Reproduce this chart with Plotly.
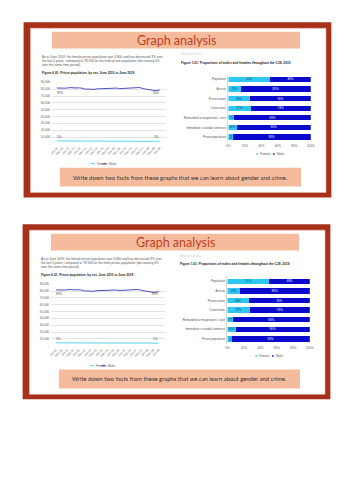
import plotly.graph_objects as go

W, H = 353, 500

quarters = ["Jun-10", "Sep-10", "Dec-10", "Mar-11", "Jun-11", "Sep-11", "Dec-11", "Mar-12",
            "Jun-12", "Sep-12", "Dec-12", "Mar-13", "Jun-13", "Sep-13", "Dec-13", "Mar-14",
            "Jun-14", "Sep-14", "Dec-14", "Mar-15", "Jun-15", "Sep-15", "Dec-15", "Mar-16",
            "Jun-16", "Sep-16", "Dec-16", "Mar-17", "Jun-17", "Sep-17", "Dec-17", "Mar-18",
            "Jun-18", "Sep-18", "Dec-18", "Mar-19", "Jun-19"]
tick_labels = ["Jun-10", "Dec-10", "Jun-11", "Dec-11", "Jun-12", "Dec-12", "Jun-13", "Dec-13",
               "Jun-14", "Dec-14", "Jun-15", "Dec-15", "Jun-16", "Dec-16", "Jun-17", "Dec-17",
               "Jun-18", "Dec-18", "Jun-19"]
male_pop = [81700, 81400, 80900, 81500, 81900, 82400, 81800, 82100, 81900, 81200, 80100, 80200,
            79700, 79600, 80400, 80600, 81200, 81500, 81000, 81300, 81900, 81600, 80800, 81000,
            81200, 81800, 81100, 81700, 82100, 82400, 80900, 80000, 79300, 79000, 78200, 78300,
            78900]
female_pop = [4250, 4300, 4150, 4150, 4200, 4250, 4000, 4100, 4100, 4000, 3850, 3900, 3850, 3900,
              3900, 3950, 3900, 3950, 3850, 3900, 3950, 3950, 3850, 3900, 3850, 3950, 3800, 4000,
              4050, 4050, 3850, 3800, 3800, 3750, 3700, 3750, 3800]
y_ticks = [0, 10000, 20000, 30000, 40000, 50000, 60000, 70000, 80000, 90000]
y_tick_text = ["-", "10,000", "20,000", "30,000", "40,000", "50,000", "60,000", "70,000",
               "80,000", "90,000"]

stages = ["Population", "Arrests", "Prosecutions", "Convictions",
          "Remanded at magistrates' court", "Immediate custodial sentence", "Prison population"]
female_pct = [51, 15, 26, 27, 7, 10, 5]
male_pct = [49, 85, 74, 73, 93, 90, 95]
pct_ticks = [0, 20, 40, 60, 80, 100]
pct_tick_text = ["0%", "20%", "40%", "60%", "80%", "100%"]

intro = ("As at June 2019, the female prison population was 3,800 and has decreased 3% over<br>"
         "the last 5 years, compared to 78,900 for the male prison population (decreasing 4%<br>"
         "over the same time period).")
fig_left_title = "Figure 6.01: Prison population, by sex, June 2010 to June 2019"
fig_right_title = "Figure 1.01: Proportions of males and females throughout the CJS, 2019"
question = "Write down two facts from these graphs that we can learn about gender and crime."

RED = "#A8301A"
PEACH = "#F5BB9D"
CYAN = "#2CC8F2"
BLUE = "#0A0ACC"
MLINE = "#4F4FC4"
FLINE = "#5AD6EE"
TXT = "#404040"
SANS = "Liberation Sans"
CAL = "Lato"


def px(x):
    return x / W


def py(y):
    return 1 - y / H


fig = go.Figure()
shapes = []
annotations = []
layout_axes = {}


def build_slide(k, dy, dx):
    lx, ly = f"x{2*k+1}" if k else "x", f"y{2*k+1}" if k else "y"
    bx, by = f"x{2*k+2}", f"y{2*k+2}"
    lxa = "xaxis" + (str(2*k+1) if k else "")
    lya = "yaxis" + (str(2*k+1) if k else "")
    bxa, bya = f"xaxis{2*k+2}", f"yaxis{2*k+2}"

    # frame
    shapes.append(dict(type="rect", xref="paper", yref="paper", layer="below",
                       x0=px(21 + dx), x1=px(335 + dx), y0=py(20.5 + dy), y1=py(197 + dy),
                       fillcolor=RED, line=dict(width=0)))
    shapes.append(dict(type="rect", xref="paper", yref="paper", layer="below",
                       x0=px(28 + dx), x1=px(329.5 + dx), y0=py(26.5 + dy), y1=py(192 + dy),
                       fillcolor="white", line=dict(width=0.6, color="#E8C0B0")))
    # title box
    shapes.append(dict(type="rect", xref="paper", yref="paper", layer="below",
                       x0=px(50 + dx), x1=px(303 + dx), y0=py(30 + dy), y1=py(47 + dy),
                       fillcolor=PEACH, line=dict(width=0)))
    annotations.append(dict(text="Graph analysis", xref="paper", yref="paper",
                            x=px(176.5 + dx), y=py(38.5 + dy), showarrow=False,
                            xanchor="center", yanchor="middle",
                            font=dict(family=CAL, size=12.5, color="#C0401E")))
    # question box
    shapes.append(dict(type="rect", xref="paper", yref="paper", layer="below",
                       x0=px(58 + dx), x1=px(304 + dx), y0=py(167 + dy), y1=py(186 + dy),
                       fillcolor=PEACH, line=dict(width=0)))
    annotations.append(dict(text=question, xref="paper", yref="paper",
                            x=px(181 + dx), y=py(176.5 + dy), showarrow=False,
                            xanchor="center", yanchor="middle",
                            font=dict(family=CAL, size=5.9, color="#333333")))
    # intro text
    annotations.append(dict(text=intro, xref="paper", yref="paper", align="left",
                            x=px(38 + dx), y=py(51.5 + dy), showarrow=False,
                            xanchor="left", yanchor="top",
                            font=dict(family=SANS, size=3.2, color="#555555")))
    annotations.append(dict(text="<b>" + fig_left_title + "</b>", xref="paper", yref="paper",
                            x=px(38 + dx), y=py(71.8 + dy), showarrow=False,
                            xanchor="left", yanchor="middle",
                            font=dict(family=SANS, size=3.1, color="#222222")))
    annotations.append(dict(text="Ministry of Justice", xref="paper", yref="paper",
                            x=px(180 + dx), y=py(52.5 + dy), showarrow=False,
                            xanchor="left", yanchor="middle",
                            font=dict(family=SANS, size=2.6, color="#CCCCCC")))
    annotations.append(dict(text="<b>" + fig_right_title + "</b>", xref="paper", yref="paper",
                            x=px(180 + dx), y=py(61 + dy), showarrow=False,
                            xanchor="left", yanchor="middle",
                            font=dict(family=SANS, size=3.2, color="#222222")))

    # line chart
    fig.add_trace(go.Scatter(x=quarters, y=male_pop, mode="lines", name="Males",
                             line=dict(color=MLINE, width=1), xaxis=lx, yaxis=ly,
                             showlegend=False, hoverinfo="skip"))
    fig.add_trace(go.Scatter(x=quarters, y=female_pop, mode="lines", name="Females",
                             line=dict(color=FLINE, width=1), xaxis=lx, yaxis=ly,
                             showlegend=False, hoverinfo="skip"))
    layout_axes[lxa] = dict(domain=[px(50 + dx), px(166 + dx)], anchor=ly,
                            type="category", range=[-1.7, 38.1],
                            tickmode="array", tickvals=tick_labels, ticktext=tick_labels,
                            tickangle=-45, tickfont=dict(family=SANS, size=3, color="#555555"),
                            showgrid=False, showline=False, ticks="", zeroline=False,
                            ticklabelstandoff=1)
    layout_axes[lya] = dict(domain=[py(143 + dy), py(81 + dy)], anchor=lx,
                            range=[0, 90000], tickmode="array", tickvals=y_ticks,
                            ticktext=y_tick_text,
                            tickfont=dict(family=SANS, size=3, color="#555555"),
                            showgrid=True, gridcolor="#E4E4E4", gridwidth=0.5,
                            zeroline=False, showline=False, ticks="", ticklabelstandoff=1)
    for xi, xa in ((quarters[0], "left"), (quarters[-1], "right")):
        annotations.append(dict(text="95%", xref=lx, yref=ly, x=xi, y=75000,
                                showarrow=False, xanchor=xa, xshift=-2 if xa == "left" else 1,
                                font=dict(family=SANS, size=3, color="#444444")))
        annotations.append(dict(text="5%", xref=lx, yref=ly, x=xi, y=10000,
                                showarrow=False, xanchor=xa, xshift=-2 if xa == "left" else 1,
                                font=dict(family=SANS, size=3, color="#444444")))
    # line legend
    lgy = 163 + dy
    for x0, col, name in ((89.5, FLINE, "Females"), (101.5, MLINE, "Males")):
        shapes.append(dict(type="line", xref="paper", yref="paper",
                           x0=px(x0 + dx), x1=px(x0 + 4 + dx), y0=py(lgy), y1=py(lgy),
                           line=dict(color=col, width=1)))
        annotations.append(dict(text=name, xref="paper", yref="paper",
                                x=px(x0 + 4.3 + dx), y=py(lgy), showarrow=False,
                                xanchor="left", yanchor="middle",
                                font=dict(family=SANS, size=2.8, color="#555555")))

    # bar chart
    fig.add_trace(go.Bar(y=stages, x=female_pct, orientation="h", name="Females",
                         marker=dict(color=CYAN, line=dict(width=0)), width=0.55,
                         text=[f"{v}%" for v in female_pct], textposition="inside",
                         insidetextanchor="middle", constraintext="none",
                         textfont=dict(family=SANS, size=3, color="#1A3A66"),
                         xaxis=bx, yaxis=by, showlegend=False, hoverinfo="skip"))
    fig.add_trace(go.Bar(y=stages, x=male_pct, orientation="h", name="Males",
                         marker=dict(color=BLUE, line=dict(width=0)), width=0.55,
                         text=[f"{v}%" for v in male_pct], textposition="inside",
                         insidetextanchor="middle", constraintext="none",
                         textfont=dict(family=SANS, size=3, color="white"),
                         xaxis=bx, yaxis=by, showlegend=False, hoverinfo="skip"))
    layout_axes[bxa] = dict(domain=[px(230 + dx), px(314 + dx)], anchor=by,
                            range=[0, 100], tickmode="array", tickvals=pct_ticks,
                            ticktext=pct_tick_text,
                            tickfont=dict(family=SANS, size=3, color="#555555"),
                            showgrid=False, zeroline=False, showline=False, ticks="",
                            ticklabelstandoff=1)
    layout_axes[bya] = dict(domain=[py(141 + dy), py(73.2 + dy)], anchor=bx,
                            type="category", range=[6.5, -0.5],
                            tickfont=dict(family=SANS, size=3, color="#555555"),
                            showgrid=False, zeroline=False, showline=True,
                            linecolor="#D9D9D9", linewidth=0.5, ticks="",
                            ticklabelstandoff=1)
    # bar legend
    bgy = 153.3 + dy
    for x0, col, name in ((258.5, CYAN, "Females"), (275.5, BLUE, "Males")):
        shapes.append(dict(type="rect", xref="paper", yref="paper",
                           x0=px(x0 + dx), x1=px(x0 + 1.6 + dx),
                           y0=py(bgy + 0.8), y1=py(bgy - 0.8),
                           fillcolor=col, line=dict(width=0)))
        annotations.append(dict(text=name, xref="paper", yref="paper",
                                x=px(x0 + 2 + dx), y=py(bgy), showarrow=False,
                                xanchor="left", yanchor="middle",
                                font=dict(family=SANS, size=2.8, color="#555555")))


build_slide(0, 0, 0)
build_slide(1, 203.5, -1)

fig.update_layout(width=W, height=H, margin=dict(l=0, r=0, t=0, b=0),
                  paper_bgcolor="white", plot_bgcolor="rgba(0,0,0,0)",
                  barmode="stack", showlegend=False, shapes=shapes,
                  annotations=annotations, **layout_axes)

fig.write_html("out.html", config={"displayModeBar": False})
